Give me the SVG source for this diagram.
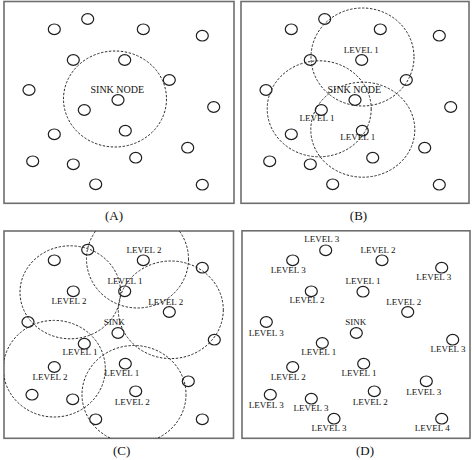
<svg xmlns="http://www.w3.org/2000/svg" xmlns:xlink="http://www.w3.org/1999/xlink" width="474" height="460" viewBox="0 0 474 460">
<style>
.bg{fill:#fff}
.box{fill:none;stroke:#6e6e6e;stroke-width:1.6}
.nd{fill:none;stroke:#1e1e1e;stroke-width:1.2}
.rg{fill:none;stroke:#2a2a2a;stroke-width:1;stroke-dasharray:2.4 1.6}
.t{font-family:"Liberation Serif","Times New Roman",serif;font-size:9px;fill:#111;text-anchor:middle}
.ts{font-size:10px}
.cap{font-family:"Liberation Serif","Times New Roman",serif;font-size:13px;fill:#111;text-anchor:middle}
</style>
<defs>
<ellipse id="n" rx="6" ry="5.3" class="nd"/>
<clipPath id="clipC"><rect x="4" y="231" width="229.5" height="207.3"/></clipPath>
</defs>
<rect class="bg" x="0" y="0" width="474" height="460"/>

<!-- Panel A -->
<g id="panelA">
<rect class="box" x="4" y="1.5" width="230" height="201.8"/>
<g id="a1"><use href="#n" x="87.7" y="19"/></g>
<g id="a2"><use href="#n" x="54.3" y="29.3"/></g>
<g id="a3"><use href="#n" x="143.3" y="29.3"/></g>
<g id="a4"><use href="#n" x="202.3" y="35.7"/></g>
<g id="a5"><use href="#n" x="73.3" y="60"/></g>
<g id="a6"><use href="#n" x="124.7" y="60"/></g>
<g id="a7"><use href="#n" x="169.3" y="80"/></g>
<g id="a8"><use href="#n" x="29" y="90"/></g>
<g id="a9"><use href="#n" x="118" y="100"/><text class="t ts" x="117.3" y="93.3">SINK NODE</text></g>
<g id="a10"><use href="#n" x="84.3" y="110"/></g>
<g id="a11"><use href="#n" x="213.7" y="107"/></g>
<g id="a12"><use href="#n" x="54.3" y="134.3"/></g>
<g id="a13"><use href="#n" x="125.3" y="130.7"/></g>
<g id="a14"><use href="#n" x="187.7" y="147.7"/></g>
<g id="a15"><use href="#n" x="32.7" y="161.3"/></g>
<g id="a16"><use href="#n" x="73.3" y="164.3"/></g>
<g id="a17"><use href="#n" x="135.7" y="157.7"/></g>
<g id="a18"><use href="#n" x="95.7" y="184.3"/></g>
<g id="a19"><use href="#n" x="202.3" y="184.7"/></g>
<text class="cap" x="114" y="219.5">(A)</text>
</g>

<!-- Panel B -->
<g id="panelB">
<rect class="box" x="241" y="1.5" width="228" height="201.8"/>
<g id="b1"><use href="#n" x="324.7" y="19"/></g>
<g id="b2"><use href="#n" x="291.3" y="29.3"/></g>
<g id="b3"><use href="#n" x="380.3" y="29.3"/></g>
<g id="b4"><use href="#n" x="439.3" y="35.7"/></g>
<g id="b5"><use href="#n" x="310.3" y="60"/></g>
<g id="b6"><use href="#n" x="361.7" y="60"/></g>
<g id="b7"><use href="#n" x="406.3" y="80"/></g>
<g id="b8"><use href="#n" x="266" y="90"/></g>
<g id="b9"><use href="#n" x="355" y="100"/><text class="t ts" x="354.3" y="92.6">SINK NODE</text></g>
<g id="b10"><use href="#n" x="321.3" y="110"/></g>
<g id="b11"><use href="#n" x="450.7" y="107"/></g>
<g id="b12"><use href="#n" x="291.3" y="134.3"/></g>
<g id="b13"><use href="#n" x="362.3" y="130.7"/></g>
<g id="b14"><use href="#n" x="424.7" y="147.7"/></g>
<g id="b15"><use href="#n" x="269.7" y="161.3"/></g>
<g id="b16"><use href="#n" x="310.3" y="164.3"/></g>
<g id="b17"><use href="#n" x="372.7" y="157.7"/></g>
<g id="b18"><use href="#n" x="332.7" y="184.3"/></g>
<g id="b19"><use href="#n" x="439.3" y="184.7"/></g>
<text class="t" x="361.3" y="53">LEVEL 1</text>
<text class="t" x="317" y="120.7">LEVEL 1</text>
<text class="t" x="357.7" y="140.3">LEVEL 1</text>
<text class="cap" x="358.5" y="219.5">(B)</text>
</g>

<!-- Panel C -->
<g id="panelC">
<rect class="box" x="4" y="231" width="229.5" height="207.3"/>
<g id="c1"><use href="#n" x="87.7" y="249.7"/></g>
<g id="c2"><use href="#n" x="54.3" y="260.3"/></g>
<g id="c3"><use href="#n" x="143.3" y="260.3"/></g>
<g id="c4"><use href="#n" x="202.3" y="267.7"/></g>
<g id="c5"><use href="#n" x="73.3" y="291.3"/></g>
<g id="c6"><use href="#n" x="124.7" y="291.3"/></g>
<g id="c7"><use href="#n" x="169.3" y="312"/></g>
<g id="c8"><use href="#n" x="28" y="322"/></g>
<g id="c9"><use href="#n" x="118" y="333"/></g>
<g id="c10"><use href="#n" x="84.3" y="343.7"/></g>
<g id="c11"><use href="#n" x="214.3" y="339.7"/></g>
<g id="c12"><use href="#n" x="54.3" y="367"/></g>
<g id="c13"><use href="#n" x="125.3" y="363.7"/></g>
<g id="c14"><use href="#n" x="188.3" y="381.3"/></g>
<g id="c15"><use href="#n" x="32" y="394.7"/></g>
<g id="c16"><use href="#n" x="72.7" y="399.3"/></g>
<g id="c17"><use href="#n" x="135.7" y="391.3"/></g>
<g id="c18"><use href="#n" x="95.7" y="419.3"/></g>
<g id="c19"><use href="#n" x="202.3" y="419.3"/></g>
<text class="t" x="144" y="252.7">LEVEL 2</text>
<text class="t" x="125" y="284.3">LEVEL 1</text>
<text class="t" x="69" y="303.7">LEVEL 2</text>
<text class="t" x="165.7" y="305">LEVEL 2</text>
<text class="t" x="114.3" y="325">SINK</text>
<text class="t" x="80" y="355">LEVEL 1</text>
<text class="t" x="50" y="380">LEVEL 2</text>
<text class="t" x="121.7" y="376">LEVEL 1</text>
<text class="t" x="132.3" y="405">LEVEL 2</text>
<text class="cap" x="121.7" y="455">(C)</text>
</g>

<!-- Panel D -->
<g id="panelD">
<rect class="box" x="242" y="230.8" width="228" height="207.5"/>
<g id="d1"><use href="#n" x="325.7" y="250.3"/><text class="t" x="321.7" y="242">LEVEL 3</text></g>
<g id="d2"><use href="#n" x="292.7" y="260.3"/><text class="t" x="288.3" y="273.3">LEVEL 3</text></g>
<g id="d3"><use href="#n" x="382" y="260.3"/><text class="t" x="378" y="252.7">LEVEL 2</text></g>
<g id="d4"><use href="#n" x="441.7" y="267.7"/><text class="t" x="433.7" y="280">LEVEL 3</text></g>
<g id="d5"><use href="#n" x="311.3" y="291.3"/><text class="t" x="307" y="303.3">LEVEL 2</text></g>
<g id="d6"><use href="#n" x="363" y="291.7"/><text class="t" x="363" y="284">LEVEL 1</text></g>
<g id="d7"><use href="#n" x="407.7" y="312"/><text class="t" x="403.7" y="305">LEVEL 2</text></g>
<g id="d8"><use href="#n" x="266.3" y="322"/><text class="t" x="266.3" y="336">LEVEL 3</text></g>
<g id="d9"><use href="#n" x="356.3" y="333"/><text class="t" x="355.7" y="325">SINK</text></g>
<g id="d10"><use href="#n" x="322.3" y="343"/><text class="t" x="318.7" y="355">LEVEL 1</text></g>
<g id="d11"><use href="#n" x="452.7" y="339.7"/><text class="t" x="448" y="351.7">LEVEL 3</text></g>
<g id="d12"><use href="#n" x="292.7" y="367"/><text class="t" x="288.3" y="380">LEVEL 2</text></g>
<g id="d13"><use href="#n" x="363.7" y="363.7"/><text class="t" x="359" y="376">LEVEL 1</text></g>
<g id="d14"><use href="#n" x="426.3" y="381.3"/><text class="t" x="423.7" y="395">LEVEL 3</text></g>
<g id="d15"><use href="#n" x="270.3" y="394.7"/><text class="t" x="266.3" y="408.3">LEVEL 3</text></g>
<g id="d16"><use href="#n" x="311.3" y="398.7"/><text class="t" x="311" y="411">LEVEL 3</text></g>
<g id="d17"><use href="#n" x="374.3" y="391.3"/><text class="t" x="370.3" y="405">LEVEL 2</text></g>
<g id="d18"><use href="#n" x="334" y="418.7"/><text class="t" x="329" y="430.7">LEVEL 3</text></g>
<g id="d19"><use href="#n" x="441.7" y="418.7"/><text class="t" x="432.3" y="430.7">LEVEL 4</text></g>
<text class="cap" x="365" y="455">(D)</text>
</g>

<!-- range circles (connectors) -->
<g id="ranges">
<ellipse class="rg" cx="115" cy="99" rx="51.5" ry="48"/>
<ellipse class="rg" cx="362.5" cy="57" rx="51.5" ry="49"/>
<ellipse class="rg" cx="319.2" cy="108.8" rx="52" ry="48"/>
<ellipse class="rg" cx="362.8" cy="129.7" rx="52" ry="47.5"/>
<g clip-path="url(#clipC)">
<ellipse class="rg" cx="137.5" cy="259" rx="51" ry="49"/>
<ellipse class="rg" cx="70.3" cy="292.3" rx="50.3" ry="46.5"/>
<ellipse class="rg" cx="170.8" cy="309.8" rx="52.5" ry="48.8"/>
<ellipse class="rg" cx="54.3" cy="368.7" rx="51" ry="48.3"/>
<ellipse class="rg" cx="134" cy="394.5" rx="52" ry="49"/>
</g>
</g>
</svg>
